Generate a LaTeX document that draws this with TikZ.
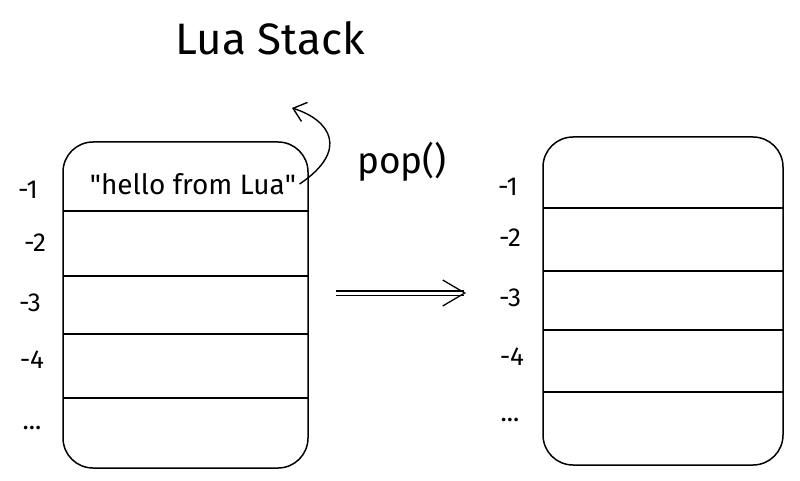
\documentclass[tikz,border=0pt]{standalone}
\usepackage{fontspec}
\setmainfont{Fira Sans}
\usetikzlibrary{arrows.meta}
\tikzset{lbl/.style={font=\fontsize{26}{28}\selectfont},
 stackbox/.style={draw,line width=1.5pt,rounded corners=30pt},
 sep/.style={line width=1.4pt}}
\begin{document}
\begin{tikzpicture}[x=1pt,y=-1pt]
\useasboundingbox[fill=white] (0,0) rectangle (800,481);
\node[font=\fontsize{44}{48}\selectfont] (title) at (270,38) {Lua Stack};
% left stack
\draw[stackbox] (63,142) rectangle (308,468);
\foreach \y in {211,276,334,398} \draw[sep] (63,\y) -- (308,\y);
\node[lbl] (l1) at (28,190) {-1};
\node[lbl] (l2) at (35,243) {-2};
\node[lbl] (l3) at (30,303) {-3};
\node[lbl] (l4) at (32,360) {-4};
\node[lbl] (l5) at (32,428) {...};
\node[font=\fontsize{28}{32}\selectfont] (hello) at (193,184) {\textquotedbl hello from Lua\textquotedbl};
\node[font=\fontsize{37}{40}\selectfont] (pop) at (402,162) {pop()};
\coordinate (popend) at (292,108);
\draw[line width=1.4pt,-{Straight Barb[length=12pt,width=20pt]}] (hello.east) .. controls (350,150) and (330,120) .. (popend);
% arrow
\coordinate (m1) at (336,293);
\coordinate (m2) at (466,293);
\draw[line width=1.3pt,double distance=3pt,-{Straight Barb[length=22pt,width=26pt]}] (m1) -- (m2);
% right stack
\draw[stackbox] (543,137) rectangle (783,465);
\foreach \y in {208,271,330,392} \draw[sep] (543,\y) -- (783,\y);
\node[lbl] (r1) at (508,187) {-1};
\node[lbl] (r2) at (510,238) {-2};
\node[lbl] (r3) at (510,298) {-3};
\node[lbl] (r4) at (512,357) {-4};
\node[lbl] (r5) at (510,420) {...};
\end{tikzpicture}
\end{document}
